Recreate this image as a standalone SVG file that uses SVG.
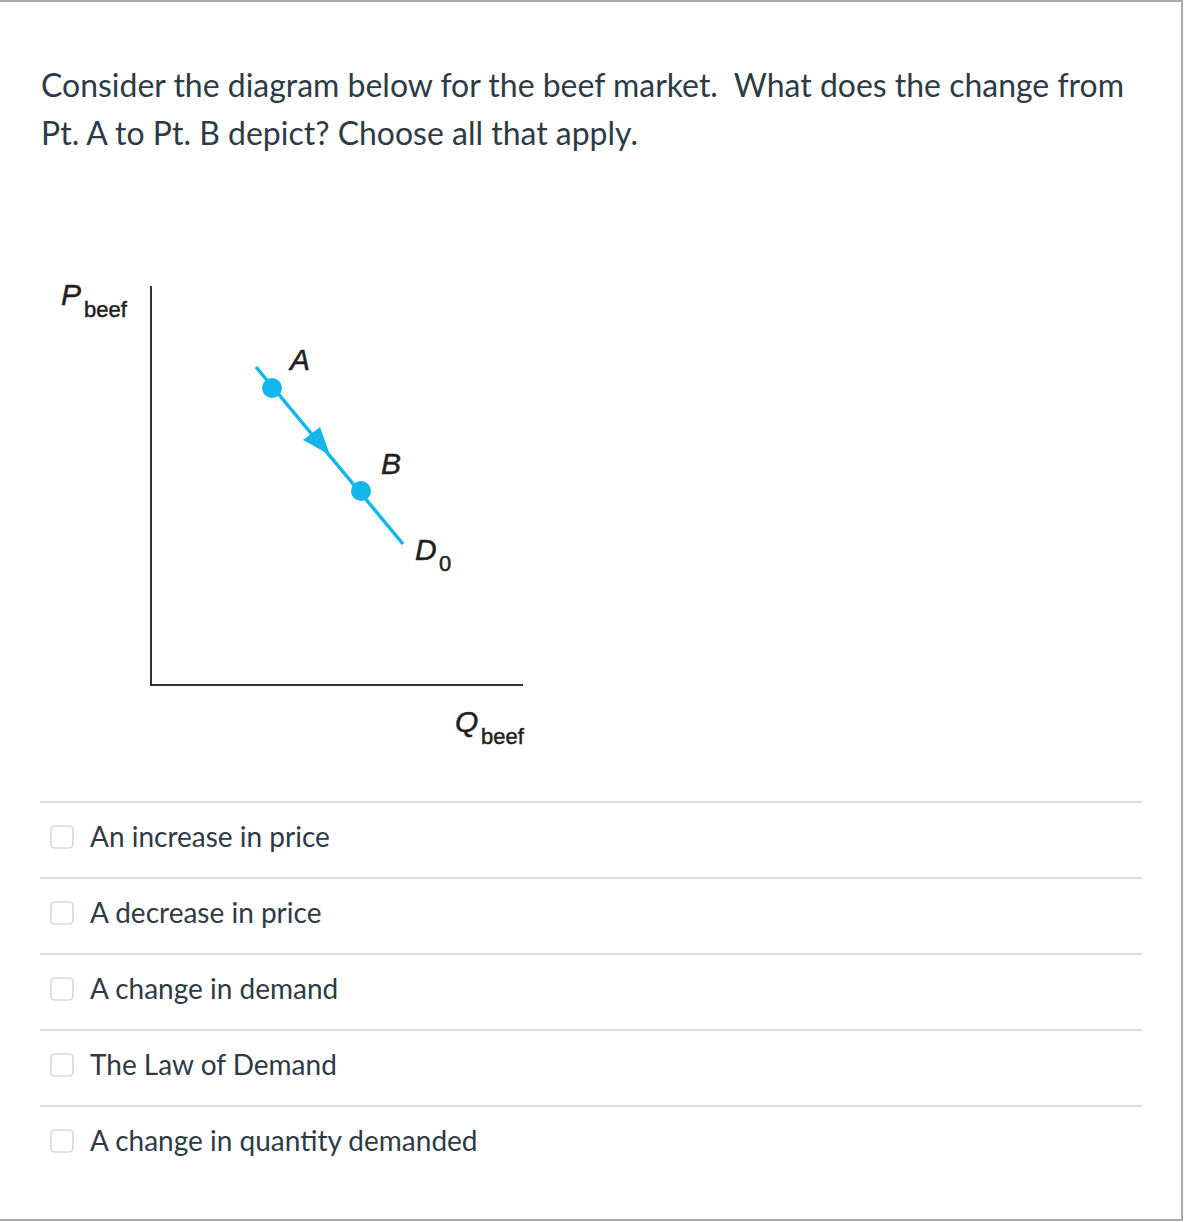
<svg xmlns="http://www.w3.org/2000/svg" width="1186" height="1222" viewBox="0 0 1186 1222">
<style>
.q{font-family:Lato,"Noto Sans",sans-serif;font-size:32px;fill:#2d3b45}
.opt{font-family:Lato,"Noto Sans",sans-serif;font-size:28px;fill:#2d3b45}
.lbl{font-family:"Liberation Sans",Arial,sans-serif;fill:#231f20;stroke:#231f20;stroke-width:0.5}
.big{font-size:30px;font-style:italic}
.sub{font-size:22px}
.sep{stroke:#dcdcdc;stroke-width:2}
.cb{fill:#fff;stroke:#c8c8c8;stroke-width:1.2}
.axis{stroke:#333;stroke-width:2;fill:none}
.curve{stroke:#12b6ea;stroke-width:3.5;fill:none}
.dot{fill:#12b6ea}
</style>
<rect x="0" y="0" width="1186" height="1222" fill="#fff"/>
<g id="frame" fill="none" stroke="#aaa" stroke-width="2">
<line x1="0" y1="1" x2="1183" y2="1"/>
<line x1="1182" y1="0" x2="1182" y2="1221"/>
<line x1="0" y1="1220" x2="1183" y2="1220"/>
</g>
<g id="question">
<text class="q" x="41" y="97" xml:space="preserve" textLength="1083" lengthAdjust="spacingAndGlyphs">Consider the diagram below for the beef market.  What does the change from</text>
<text class="q" x="41" y="145" textLength="597" lengthAdjust="spacingAndGlyphs">Pt. A to Pt. B depict? Choose all that apply.</text>
</g>
<g id="graph">
<g id="axes"><path class="axis" d="M151 286 V685 H523"/></g>
<g id="p-label"><text class="lbl big" x="61" y="305">P</text><text class="lbl sub" x="84" y="317">beef</text></g>
<g id="q-label"><text class="lbl big" x="455" y="732">Q</text><text class="lbl sub" x="481" y="744">beef</text></g>
<g id="connectors">
<line class="curve" x1="256" y1="367" x2="403" y2="544"/>
<polygon class="dot" points="303,440 320,427 330,455"/>
</g>
<g id="point-a"><circle class="dot" cx="272" cy="388" r="10"/><text class="lbl big" x="290" y="370">A</text></g>
<g id="point-b"><circle class="dot" cx="361" cy="491" r="10"/><text class="lbl big" x="381" y="474">B</text></g>
<g id="d0-label"><text class="lbl big" x="415" y="560">D</text><text class="lbl sub" x="439" y="571">0</text></g>
</g>
<g id="options">
<line class="sep" x1="40" y1="802" x2="1142" y2="802"/>
<line class="sep" x1="40" y1="878" x2="1142" y2="878"/>
<line class="sep" x1="40" y1="954" x2="1142" y2="954"/>
<line class="sep" x1="40" y1="1030" x2="1142" y2="1030"/>
<line class="sep" x1="40" y1="1106" x2="1142" y2="1106"/>
<g id="opt1"><rect class="cb" x="51" y="826" width="22" height="22" rx="4"/><text class="opt" x="90" y="847">An increase in price</text></g>
<g id="opt2"><rect class="cb" x="51" y="902" width="22" height="22" rx="4"/><text class="opt" x="90" y="923">A decrease in price</text></g>
<g id="opt3"><rect class="cb" x="51" y="978" width="22" height="22" rx="4"/><text class="opt" x="90" y="999">A change in demand</text></g>
<g id="opt4"><rect class="cb" x="51" y="1054" width="22" height="22" rx="4"/><text class="opt" x="90" y="1075">The Law of Demand</text></g>
<g id="opt5"><rect class="cb" x="51" y="1130" width="22" height="22" rx="4"/><text class="opt" x="90" y="1151">A change in quantity demanded</text></g>
</g>
</svg>
